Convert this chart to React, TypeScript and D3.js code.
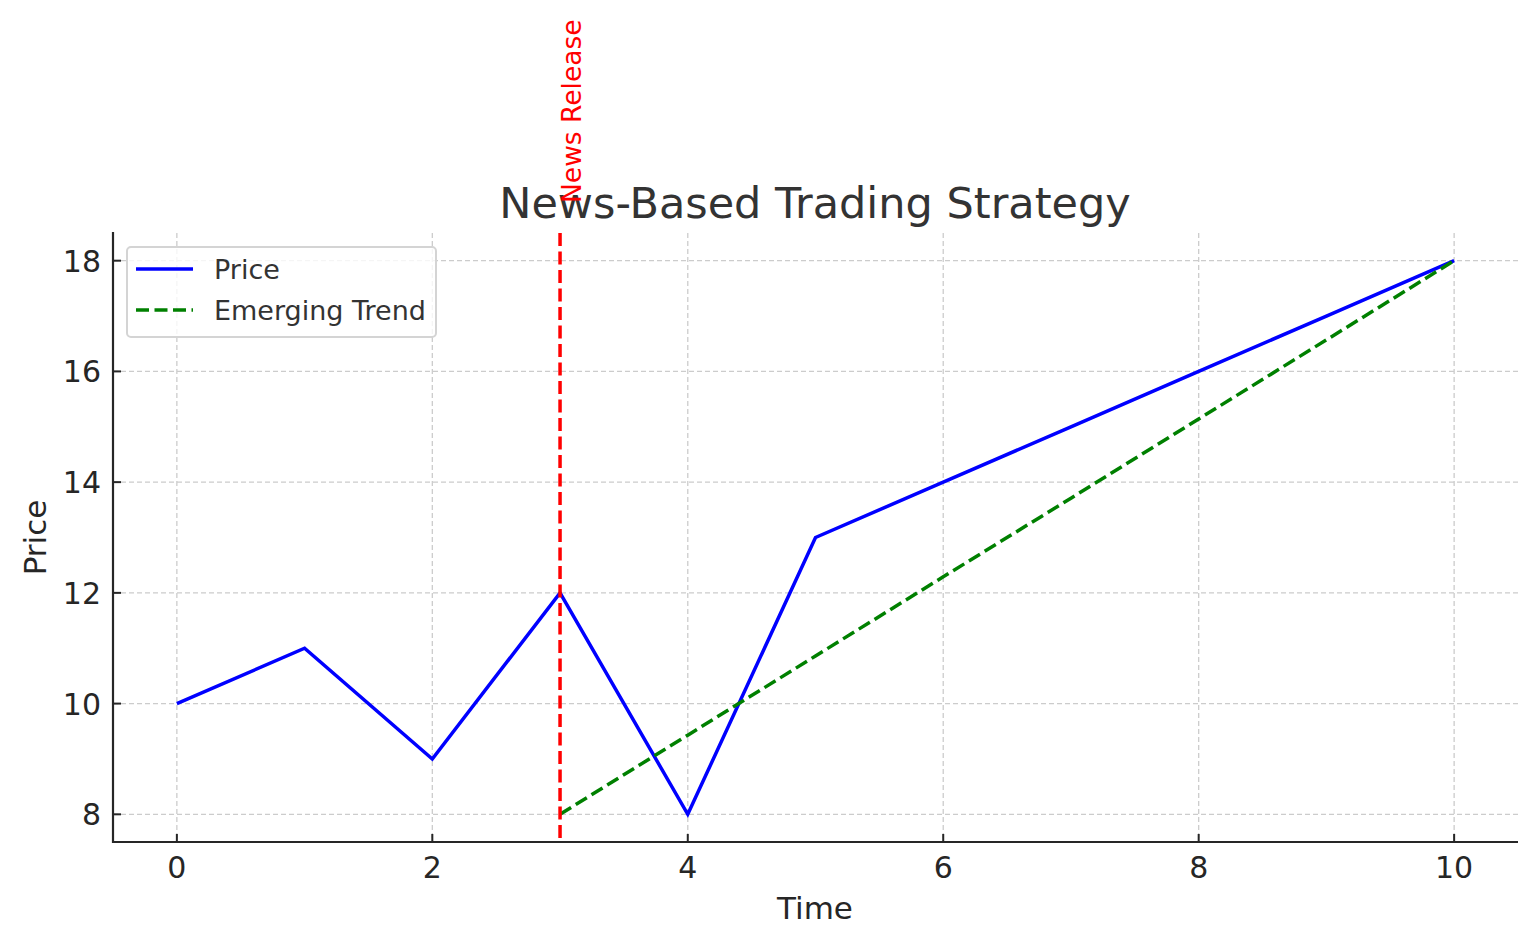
import React from 'react';
import * as d3 from "d3";

// price series
const timeValues = [0, 1, 2, 3, 4, 5, 6, 7, 8, 9, 10];
const priceValues = [10, 11, 9, 12, 8, 13, 14, 15, 16, 17, 18];

// emerging trend after the news
const trendTimes = [3, 4, 5, 6, 7, 8, 9, 10];
const trendValues = [8, 9.43, 10.86, 12.29, 13.71, 15.14, 16.57, 18];

const newsTime = 3;
const xTicks = [0, 2, 4, 6, 8, 10];
const yTicks = [8, 10, 12, 14, 16, 18];

const W = 1536;
const H = 946;
const margin = {top: 233, right: 18, bottom: 104, left: 113};
const FONT = "DejaVu Sans, sans-serif";
const LW = 3.5;
const DASH = "13,5.5";

export default function App() {
    const width = W - margin.left - margin.right;
    const height = H - margin.top - margin.bottom;

    const xScale = d3.scaleLinear().domain([-0.5, 10.5]).range([0, width]);
    const yScale = d3.scaleLinear().domain([7.5, 18.5]).range([height, 0]);

    const line = d3.line<[number, number]>()
        .x(d => xScale(d[0]))
        .y(d => yScale(d[1]));

    const pricePath = line(timeValues.map((t, i) => [t, priceValues[i]]) as [number, number][]) || "";
    const trendPath = line(trendTimes.map((t, i) => [t, trendValues[i]]) as [number, number][]) || "";

    const newsX = xScale(newsTime);

    return (
        <svg width={W} height={H} style={{display: "block", position: "absolute", left: 0, top: 0}}
             fontFamily={FONT}>
            <rect width={W} height={H} fill="#fff"/>
            <text x={815} y={218} textAnchor="middle" fontSize={43} fill="#333">News-Based Trading Strategy</text>
            <g transform={`translate(${margin.left},${margin.top})`}>
                {/* grid */}
                {xTicks.map(t => (
                    <line key={"gx" + t} x1={xScale(t)} x2={xScale(t)} y1={0} y2={height}
                          stroke="#cccccc" strokeWidth={1.3} strokeDasharray="5,3"/>
                ))}
                {yTicks.map(t => (
                    <line key={"gy" + t} x1={0} x2={width} y1={yScale(t)} y2={yScale(t)}
                          stroke="#cccccc" strokeWidth={1.3} strokeDasharray="5,3"/>
                ))}

                {/* series */}
                <path d={pricePath} fill="none" stroke="#0000ff" strokeWidth={LW}/>
                <path d={trendPath} fill="none" stroke="#008000" strokeWidth={LW} strokeDasharray={DASH}/>
                <line x1={newsX} x2={newsX} y1={0} y2={height} stroke="#ff0000" strokeWidth={LW}
                      strokeDasharray={DASH}/>

                {/* spines */}
                <line x1={0} x2={0} y1={-1} y2={height + 1} stroke="#262626" strokeWidth={2.2}/>
                <line x1={-1} x2={width} y1={height} y2={height} stroke="#262626" strokeWidth={2.2}/>

                {/* ticks */}
                {xTicks.map(t => (
                    <g key={"tx" + t}>
                        <line x1={xScale(t)} x2={xScale(t)} y1={height} y2={height - 8} stroke="#262626" strokeWidth={2}/>
                        <text x={xScale(t)} y={height + 36} textAnchor="middle" fontSize={30} fill="#262626">{t}</text>
                    </g>
                ))}
                {yTicks.map(t => (
                    <g key={"ty" + t}>
                        <line x1={0} x2={8} y1={yScale(t)} y2={yScale(t)} stroke="#262626" strokeWidth={2}/>
                        <text x={-12} y={yScale(t) + 11} textAnchor="end" fontSize={30} fill="#262626">{t}</text>
                    </g>
                ))}

                {/* legend */}
                <rect x={14} y={14} width={309} height={90} rx={4} fill="#fff" fillOpacity={0.8}
                      stroke="#d4d4d4" strokeWidth={2}/>
                <line x1={23} x2={80} y1={36} y2={36} stroke="#0000ff" strokeWidth={LW}/>
                <text x={101} y={46} fontSize={27} fill="#333">Price</text>
                <line x1={23} x2={80} y1={77} y2={77} stroke="#008000" strokeWidth={LW} strokeDasharray={DASH}/>
                <text x={101} y={87} fontSize={27} fill="#333">Emerging Trend</text>
            </g>

            {/* annotation */}
            <text transform={`translate(${margin.left + newsX + 21},203) rotate(-90)`} fontSize={26.5}
                  fill="#ff0000">News Release</text>

            {/* axis labels */}
            <text x={815} y={919} textAnchor="middle" fontSize={31} fill="#262626">Time</text>
            <text transform={`translate(46,${margin.top + height / 2}) rotate(-90)`} textAnchor="middle"
                  fontSize={31} fill="#262626">Price</text>
        </svg>
    );
}
